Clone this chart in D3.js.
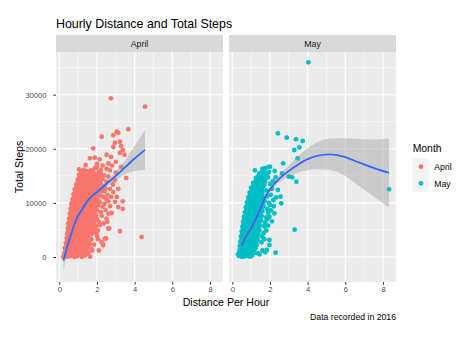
<!DOCTYPE html>
<html><head><meta charset="utf-8">
<script src="https://cdn.jsdelivr.net/npm/d3@7"></script>
<style>body{margin:0;background:#fff}svg{display:block}text{font-family:"Liberation Sans",Arial,Helvetica,sans-serif}</style>
</head><body><svg id="c" width="474" height="346"></svg>
<script>
const months = ["April", "May"];
const monthColors = ["#F8766D", "#00BFC4"];
const xTicks = [0, 2, 4, 6, 8];
const xMinor = [1, 3, 5, 7];
const yTicks = [0, 10000, 20000, 30000];
const yMinor = [5000, 15000, 25000, 35000];
const yTickLabels = ["0", "10000", "20000", "30000"];

const aprilPts = [
[0.22,0],[0.3,120],[0.45,60],[0.62,200],[0.8,40],[0.95,150],[1.2,30],[1.35,300],[1.63,60],[0.5,400],[1.08,500],
[0.27,450],[0.38,380],[0.7,550],[0.87,420],[1.0,700],[1.15,400],[1.45,600],
[0.28,700],[0.4,950],[0.55,850],[0.7,1000],[0.88,800],[1.05,1100],[1.25,900],[1.4,1280],[1.55,800],
[0.33,1300],[0.48,1450],[0.63,1350],[0.8,1500],[0.97,1400],[1.15,1550],[1.33,1400],[1.45,1600],
[0.3,1700],[0.45,1900],[0.6,1750],[0.75,2000],[0.92,1800],[1.1,2100],[1.28,1850],[1.5,2000],
[0.38,2250],[0.52,2350],[0.68,2200],[0.85,2400],[1.02,2300],[1.2,2450],[1.4,2300],[1.62,2400],
[0.35,2600],[0.5,2800],[0.65,2700],[0.8,2900],[0.97,2600],[1.15,2800],[1.32,2650],[1.55,2900],[2.24,2770],[2.33,2150],[2.42,3400],[2.3,2530],[2.48,3450],
[0.42,3150],[0.58,3250],[0.75,3100],[0.9,3300],[1.08,3200],[1.25,3300],[1.45,3100],[1.7,3250],
[0.4,3500],[0.55,3700],[0.7,3550],[0.85,3800],[1.0,3600],[1.18,3750],[1.35,3500],[1.6,3800],[4.37,3700],[2.05,3300],
[0.45,4000],[0.62,4150],[0.78,4050],[0.95,4200],[1.1,4050],[1.28,4200],[1.48,4000],[1.68,4150],
[0.42,4400],[0.58,4600],[0.73,4450],[0.88,4700],[1.03,4500],[1.2,4650],[1.38,4400],[1.55,4600],[1.75,4500],[2.6,5240],[3.22,4800],[2.65,5300],
[0.48,4900],[0.65,5050],[0.82,4950],[0.97,5100],[1.14,4950],[1.3,5100],[1.48,4950],[1.68,5050],[1.88,4950],
[0.45,5300],[0.6,5500],[0.76,5350],[0.9,5600],[1.06,5400],[1.22,5550],[1.4,5300],[1.58,5500],[1.8,5400],[1.95,5700],
[0.52,5800],[0.68,5950],[0.84,5850],[1.0,6000],[1.15,5850],[1.32,6000],[1.5,5850],[1.7,5950],[1.88,5900],
[0.48,6200],[0.63,6400],[0.78,6250],[0.93,6500],[1.08,6300],[1.25,6450],[1.42,6200],[1.6,6400],[1.78,6300],[2.1,6500],
[0.56,6700],[0.72,6850],[0.88,6750],[1.03,6900],[1.2,6750],[1.36,6900],[1.54,6700],[1.72,6850],[1.92,6750],
[0.52,7100],[0.67,7300],[0.82,7150],[0.97,7400],[1.12,7200],[1.28,7350],[1.45,7100],[1.62,7300],[1.82,7250],[2.51,7080],[2.0,7000],
[0.6,7600],[0.76,7750],[0.9,7650],[1.06,7800],[1.22,7650],[1.4,7800],[1.56,7600],[1.75,7750],[1.95,7700],
[0.56,8000],[0.7,8200],[0.85,8050],[1.0,8300],[1.15,8100],[1.3,8250],[1.48,8000],[1.66,8200],[1.85,8150],[2.6,8000],[2.78,8130],[2.2,8300],
[0.63,8500],[0.78,8650],[0.93,8550],[1.08,8700],[1.24,8550],[1.4,8700],[1.58,8500],[1.77,8650],[2.0,8600],
[0.6,8900],[0.74,9100],[0.88,8950],[1.03,9200],[1.18,9000],[1.33,9150],[1.5,8900],[1.68,9100],[1.9,9000],[3.13,9230],[3.37,8900],[2.3,9300],
[0.68,9400],[0.82,9550],[0.97,9450],[1.12,9600],[1.28,9450],[1.44,9600],[1.62,9400],[1.82,9550],[2.05,9500],
[0.64,9800],[0.78,10000],[0.93,9850],[1.07,10100],[1.22,9900],[1.37,10050],[1.53,9800],[1.72,10000],[1.95,9900],[2.15,10100],[2.96,10200],[3.37,10300],
[0.72,10300],[0.87,10450],[1.02,10350],[1.17,10500],[1.33,10350],[1.5,10500],[1.67,10300],[1.87,10450],[2.1,10400],
[0.7,10700],[0.84,10900],[0.98,10750],[1.12,11000],[1.27,10800],[1.42,10950],[1.58,10700],[1.76,10900],[1.98,10800],[2.33,11100],[3.05,11100],[2.5,10700],
[0.78,11200],[0.93,11350],[1.08,11250],[1.23,11400],[1.38,11250],[1.54,11400],[1.72,11200],[1.92,11350],[2.15,11300],
[0.76,11600],[0.9,11800],[1.04,11650],[1.18,11900],[1.32,11700],[1.47,11850],[1.63,11600],[1.82,11800],[2.05,11700],[2.69,12600],[2.87,12000],[3.13,12600],[2.4,12200],
[0.85,12100],[1.0,12250],[1.14,12150],[1.3,12300],[1.45,12150],[1.6,12300],[1.78,12100],[1.98,12250],[2.25,12150],
[0.82,12500],[0.96,12700],[1.1,12550],[1.24,12800],[1.38,12600],[1.53,12750],[1.7,12500],[1.9,12700],[2.12,12600],
[0.92,13000],[1.06,13150],[1.2,13050],[1.35,13200],[1.5,13050],[1.66,13200],[1.85,13000],[2.05,13150],
[0.9,13400],[1.04,13600],[1.18,13450],[1.32,13700],[1.46,13500],[1.6,13650],[1.78,13400],[1.98,13600],[2.2,13500],
[1.0,13900],[1.14,14050],[1.28,13950],[1.43,14100],[1.58,13950],[1.75,14100],[1.95,13900],[2.15,14050],
[0.98,14300],[1.12,14500],[1.26,14350],[1.4,14600],[1.55,14400],[1.7,14550],[1.88,14300],[2.08,14500],[2.3,14400],[3.55,14600],
[1.08,14800],[1.22,14950],[1.37,14850],[1.52,15000],[1.68,14850],[1.85,15000],[2.05,14800],[2.25,14950],
[1.05,15200],[1.2,15400],[1.35,15250],[1.5,15500],[1.65,15300],[1.82,15450],[2.0,15200],[2.2,15400],[2.37,15100],
[1.22,15700],[1.4,15650],[1.58,15750],[1.8,15700],[2.1,15800],
[1.15,15900],[1.3,16100],[1.48,15800],[1.7,16050],[1.98,16650],[2.69,16000],[2.5,16300],
[1.85,2300],[1.75,1200],[2.0,3900],[1.95,4400],[2.15,5900],[2.35,6200],[2.25,7600],[2.45,8700],[2.4,9800],[2.6,10300],
[2.55,11500],[2.75,11100],[2.35,13100],[2.5,13900],[2.6,14900],[2.45,12700],[2.85,13400],[2.95,14200],[1.7,1500],[2.1,1200],
[2.55,6500],[2.7,9400],[2.05,4900],[1.9,16400],[2.2,16100],[1.05,16200],[2.8,16900],[3.0,15600],
[1.63,18240],[1.88,18360],[2.14,18050],[2.51,18900],[2.6,17300],[3.28,16650],[1.8,20090],[2.87,20330],[3.28,20500],[3.37,19750],
[3.22,19250],[3.46,18900],[2.96,21130],[3.22,21300],[2.25,22240],[2.87,22500],[3.05,23160],[3.13,22960],[3.66,23600],[2.74,29330],
[4.55,27780],[2.0,17200],[1.4,17000],[2.3,16900],[3.0,17600],[2.75,18500]
];

const mayPts = [
[0.35,200],[0.45,500],[0.6,300],[0.75,150],[0.9,400],[1.05,250],[1.2,800],[0.5,60],[0.59,60],[0.94,60],
[0.4,700],[0.55,800],[0.68,650],[0.82,800],[0.97,700],[1.1,750],
[0.38,1100],[0.5,1300],[0.62,1150],[0.75,1400],[0.88,1200],[1.0,1350],[1.13,1100],[1.83,1290],[2.3,800],
[0.42,1600],[0.56,1700],[0.7,1600],[0.82,1750],[0.95,1650],[1.08,1700],[1.22,1600],
[0.4,2000],[0.52,2200],[0.64,2050],[0.77,2300],[0.9,2100],[1.03,2250],[1.16,2000],[1.3,2200],[1.97,2220],
[0.46,2500],[0.58,2600],[0.72,2500],[0.85,2650],[0.98,2550],[1.1,2650],[1.25,2500],
[0.43,2900],[0.55,3100],[0.67,2950],[0.8,3200],[0.93,3000],[1.06,3150],[1.2,2900],[1.35,3100],[1.97,3140],
[0.5,3400],[0.62,3500],[0.75,3400],[0.88,3550],[1.0,3450],[1.15,3550],[1.3,3400],
[0.46,3800],[0.58,4000],[0.7,3850],[0.83,4100],[0.96,3900],[1.09,4050],[1.23,3800],[1.4,4000],[1.6,3700],
[0.54,4300],[0.66,4400],[0.79,4300],[0.92,4450],[1.05,4350],[1.18,4450],[1.33,4300],
[0.5,4700],[0.62,4900],[0.74,4750],[0.87,5000],[1.0,4800],[1.13,4950],[1.27,4700],[1.44,4900],[3.31,5050],
[0.57,5200],[0.7,5300],[0.83,5200],[0.96,5350],[1.08,5250],[1.22,5350],[1.38,5200],
[0.54,5600],[0.66,5800],[0.78,5650],[0.91,5900],[1.04,5700],[1.17,5850],[1.31,5600],[1.48,5800],[1.7,5700],
[0.61,6100],[0.74,6200],[0.87,6100],[1.0,6250],[1.12,6150],[1.26,6250],[1.42,6100],
[0.58,6500],[0.7,6700],[0.82,6550],[0.95,6800],[1.08,6600],[1.21,6750],[1.35,6500],[1.52,6700],[1.97,7450],
[0.65,7000],[0.78,7100],[0.9,7000],[1.03,7150],[1.16,7050],[1.3,7150],[1.46,7000],
[0.62,7400],[0.74,7600],[0.86,7450],[0.99,7700],[1.12,7500],[1.25,7650],[1.39,7400],[1.56,7600],[1.8,7300],
[0.7,7900],[0.82,8000],[0.95,7900],[1.08,8050],[1.2,7950],[1.34,8050],[1.5,7900],
[0.67,8300],[0.79,8500],[0.91,8350],[1.04,8600],[1.17,8400],[1.3,8550],[1.44,8300],[1.6,8500],[2.24,8080],[1.85,8900],
[0.75,8800],[0.87,8900],[1.0,8800],[1.13,8950],[1.26,8850],[1.4,8950],[1.56,8800],
[0.72,9200],[0.84,9400],[0.96,9250],[1.09,9500],[1.22,9300],[1.35,9450],[1.49,9200],[1.65,9400],[2.6,9920],[2.0,9600],
[0.8,9700],[0.93,9800],[1.06,9700],[1.19,9850],[1.32,9750],[1.46,9850],[1.62,9700],
[0.78,10100],[0.9,10300],[1.02,10150],[1.15,10400],[1.28,10200],[1.41,10350],[1.55,10100],[1.72,10300],[2.18,10540],
[0.87,10600],[1.0,10700],[1.12,10600],[1.25,10750],[1.38,10650],[1.52,10750],[1.68,10600],
[0.85,11000],[0.97,11200],[1.09,11050],[1.22,11300],[1.35,11100],[1.48,11250],[1.62,11000],[2.33,11030],[2.56,11150],
[0.95,11500],[1.07,11600],[1.2,11500],[1.33,11650],[1.46,11550],[1.6,11650],
[0.92,11900],[1.04,12100],[1.16,11950],[1.29,12200],[1.42,12000],[1.55,12150],[2.42,12380],[1.8,12300],
[1.05,12400],[1.18,12500],[1.31,12400],[1.45,12550],[1.58,12450],
[1.0,12800],[1.12,13000],[1.25,12850],[1.38,13100],[1.51,12900],[1.64,13050],
[1.15,13300],[1.28,13400],[1.42,13300],[1.56,13450],[1.7,13350],
[1.1,13700],[1.22,13900],[1.35,13750],[1.48,14000],[1.61,13800],[1.74,13950],[3.4,13920],
[1.3,14200],[1.44,14300],[1.58,14200],[1.72,14350],
[1.25,14600],[1.38,14800],[1.52,14650],[1.66,14900],[2.3,14730],[3.0,14850],[3.18,14730],
[1.4,15100],[1.55,15200],[1.7,15050],[1.85,15250],
[1.45,15500],[1.6,15700],[1.75,15600],[2.64,15470],
[1.74,16400],[1.9,16600],[2.0,16700],[1.6,16300],
[1.45,500],[1.6,1200],[1.55,2700],[1.7,3300],[1.65,4400],[1.8,4900],[1.9,5800],[1.75,6400],[1.85,7000],[2.1,6600],
[1.9,8200],[2.05,8600],[1.95,10000],[2.2,9400],[2.05,11500],[2.1,12600],[1.85,11200],[2.0,13500],[2.15,14000],[1.9,14700],
[1.95,15700],[2.25,15900],[1.2,16000],[1.35,700],[1.75,900],[0.3,500],
[2.7,17310],[3.47,18240],[3.29,19780],[3.56,20270],[3.74,21440],[3.38,21750],[2.89,22060],[2.42,22860],[4.04,35990],[8.32,12510]
];

const aprilSmoothX  = [0.22, 0.5, 0.75, 0.9, 1.0, 1.25, 1.5, 1.75, 2.0, 2.5, 3.0, 3.5, 4.0, 4.55];
const aprilSmoothY  = [-700, 2800, 5500, 6900, 7600, 9000, 10400, 11300, 12000, 13500, 15000, 16600, 18200, 19800];
const aprilSmoothSE = [2000, 800, 550, 480, 450, 420, 400, 420, 450, 550, 800, 1300, 2300, 3700];

const maySmoothX  = [0.5, 0.75, 1.0, 1.25, 1.5, 1.75, 2.0, 2.5, 3.0, 3.5, 4.0, 4.5, 5.2, 5.9, 6.6, 7.3, 8.32];
const maySmoothY  = [2100, 3900, 5300, 7100, 9000, 11100, 12500, 14500, 15900, 17100, 18100, 18700, 18980, 18550, 17650, 16700, 15550];
const maySmoothSE = [700, 550, 500, 470, 450, 470, 500, 700, 1000, 1500, 2000, 2500, 2900, 3400, 4200, 5000, 6400];

const panels = [
  {name: months[0], pts: aprilPts, sx: aprilSmoothX, sy: aprilSmoothY, se: aprilSmoothSE, color: monthColors[0], left: 56},
  {name: months[1], pts: mayPts, sx: maySmoothX, sy: maySmoothY, se: maySmoothSE, color: monthColors[1], left: 229}
];

const svg = d3.select("#c");
const panelW = 167, panelTop = 52, panelH = 230, stripTop = 35;
const x = d3.scaleLinear().domain([-0.175, 8.69]).range([0, panelW]);
const y = d3.scaleLinear().domain([-4620, 37890]).range([panelH, 0]);

svg.append("text").attr("x", 56).attr("y", 27.5).attr("font-size", 12.4).attr("fill", "#000")
  .text("Hourly Distance and Total Steps");

panels.forEach((p, i) => {
  const g = svg.append("g").attr("transform", `translate(${p.left},${panelTop})`);
  svg.append("rect").attr("x", p.left).attr("y", stripTop).attr("width", panelW).attr("height", panelTop - stripTop).attr("fill", "#D9D9D9");
  svg.append("text").attr("x", p.left + panelW / 2).attr("y", 46.6).attr("text-anchor", "middle")
    .attr("font-size", 8.8).attr("fill", "#1A1A1A").text(p.name);
  g.append("rect").attr("width", panelW).attr("height", panelH).attr("fill", "#EBEBEB");
  g.selectAll(".xm").data(xMinor).join("line").attr("x1", d => x(d)).attr("x2", d => x(d)).attr("y1", 0).attr("y2", panelH)
    .attr("stroke", "#fff").attr("stroke-width", 0.55);
  g.selectAll(".ym").data(yMinor).join("line").attr("y1", d => y(d)).attr("y2", d => y(d)).attr("x1", 0).attr("x2", panelW)
    .attr("stroke", "#fff").attr("stroke-width", 0.55);
  g.selectAll(".xM").data(xTicks).join("line").attr("x1", d => x(d)).attr("x2", d => x(d)).attr("y1", 0).attr("y2", panelH)
    .attr("stroke", "#fff").attr("stroke-width", 1.1);
  g.selectAll(".yM").data(yTicks).join("line").attr("y1", d => y(d)).attr("y2", d => y(d)).attr("x1", 0).attr("x2", panelW)
    .attr("stroke", "#fff").attr("stroke-width", 1.1);
  g.append("g").selectAll("circle").data(p.pts).join("circle")
    .attr("cx", d => x(d[0])).attr("cy", d => y(d[1])).attr("r", 2.4).attr("fill", p.color);
  const sm = p.sx.map((v, k) => ({x: v, y: p.sy[k], lo: p.sy[k] - p.se[k], hi: p.sy[k] + p.se[k]}));
  g.append("path").datum(sm).attr("fill", "#999999").attr("fill-opacity", 0.4)
    .attr("d", d3.area().x(d => x(d.x)).y0(d => y(d.lo)).y1(d => y(d.hi)).curve(d3.curveMonotoneX));
  g.append("path").datum(sm).attr("fill", "none").attr("stroke", "#3366FF").attr("stroke-width", 1.8)
    .attr("d", d3.line().x(d => x(d.x)).y(d => y(d.y)).curve(d3.curveMonotoneX));
  const xa = svg.append("g").attr("transform", `translate(${p.left},${panelTop + panelH})`)
    .call(d3.axisBottom(x).tickValues(xTicks).tickSize(2.7).tickPadding(2.4).tickFormat(d3.format("d")));
  xa.select(".domain").remove();
  xa.attr("font-size", 7.6).attr("font-family", null);
  xa.selectAll("line").attr("stroke", "#333").attr("stroke-width", 1);
  xa.selectAll("text").attr("fill", "#4D4D4D");
  if (i === 0) {
    const ya = svg.append("g").attr("transform", `translate(${p.left},${panelTop})`)
      .call(d3.axisLeft(y).tickValues(yTicks).tickSize(2.7).tickPadding(6.8).tickFormat((d, k) => yTickLabels[k]));
    ya.select(".domain").remove();
    ya.attr("font-size", 7.6).attr("font-family", null);
    ya.selectAll("line").attr("stroke", "#333").attr("stroke-width", 1);
    ya.selectAll("text").attr("fill", "#4D4D4D");
  }
});

svg.append("text").attr("x", 226).attr("y", 306).attr("text-anchor", "middle").attr("font-size", 10.6).attr("fill", "#000")
  .text("Distance Per Hour");
svg.append("text").attr("transform", "translate(23,167) rotate(-90)").attr("text-anchor", "middle").attr("font-size", 10.6)
  .attr("fill", "#000").text("Total Steps");
svg.append("text").attr("x", 396).attr("y", 320).attr("text-anchor", "end").attr("font-size", 8.7).attr("fill", "#000")
  .text("Data recorded in 2016");

const lg = svg.append("g");
lg.append("text").attr("x", 412.7).attr("y", 151.7).attr("font-size", 10.4).attr("fill", "#000").text("Month");
months.forEach((m, k) => {
  const ky = 158.3 + k * 16.7;
  lg.append("rect").attr("x", 412.7).attr("y", ky).attr("width", 16.7).attr("height", 16.7).attr("fill", "#F2F2F2");
  lg.append("circle").attr("cx", 421).attr("cy", ky + 8.35).attr("r", 2.4).attr("fill", monthColors[k]);
  lg.append("text").attr("x", 434.3).attr("y", ky + 11.5).attr("font-size", 8.7).attr("fill", "#000").text(m);
});
</script></body></html>
